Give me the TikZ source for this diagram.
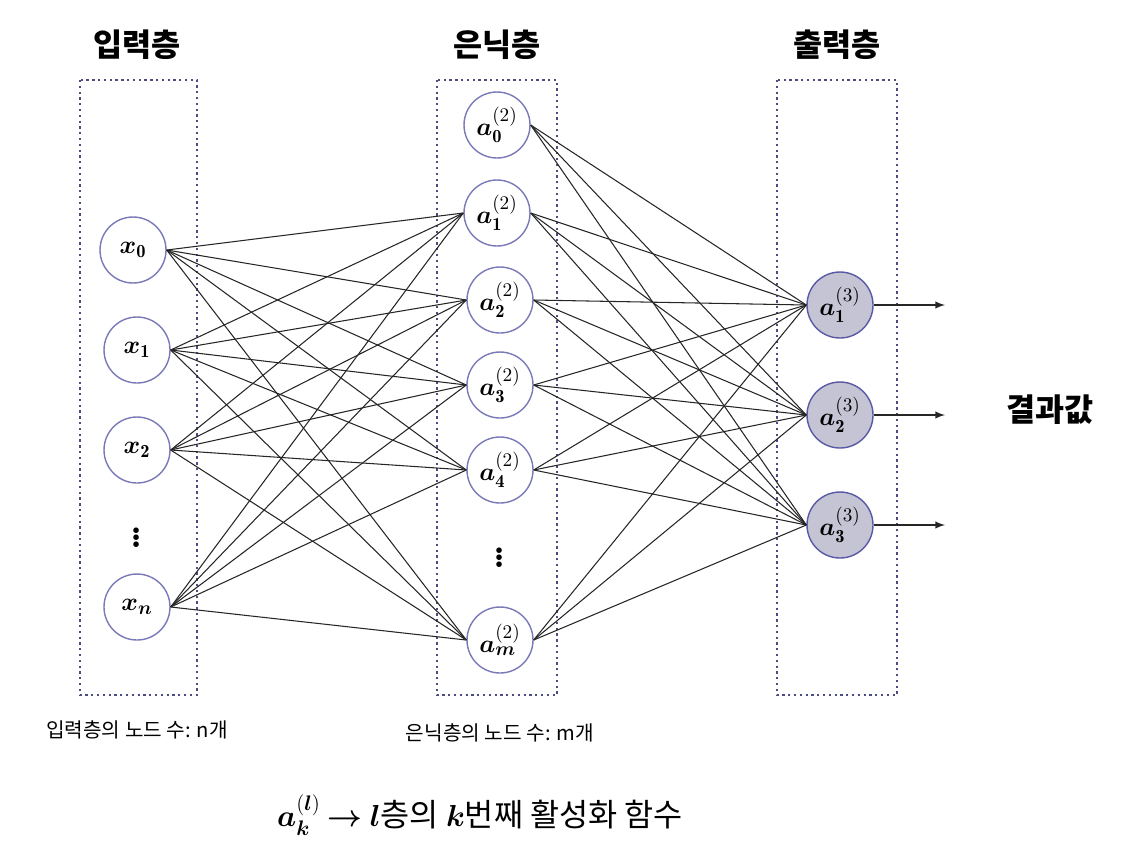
\documentclass[tikz,border=0pt]{standalone}
\usepackage{amsmath,bm}
\usepackage{fontspec}
\newfontfamily\kr{Noto Sans CJK KR}
\begin{document}
\begin{tikzpicture}[x=0.02cm,y=-0.02cm,
  neuron/.style={circle,draw=blue!30!gray!80,thick,fill=white,minimum size=1.32cm,inner sep=0pt,font=\fontsize{15}{17}\selectfont},
  outn/.style={neuron,fill=blue!15!gray!40,draw=blue!30!gray},
  layerbox/.style={draw=blue!30!black!70,dotted,line width=1.3pt},
  edge/.style={draw=black!85,line width=0.6pt},
  title/.style={font=\kr\bfseries\fontsize{18}{20}\selectfont},
  note/.style={font=\kr\fontsize{11.5}{13}\selectfont},
  vdots/.style={font=\bfseries\fontsize{22}{22}\selectfont}]
\useasboundingbox (0,0) rectangle (1128,863);
\draw[layerbox] (80,80) rectangle (197,695);
\draw[layerbox] (437,80) rectangle (557,695);
\draw[layerbox] (777,80) rectangle (897,695);
\node[title] (t1) at (137,45) {입력층};
\node[title] (t2) at (497,45) {은닉층};
\node[title] (t3) at (837,45) {출력층};
\node[neuron] (x0) at (133,250) {$\bm{x}_{\mathbf 0}$};
\node[neuron] (x1) at (137,350) {$\bm{x}_{\mathbf 1}$};
\node[neuron] (x2) at (137,450) {$\bm{x}_{\mathbf 2}$};
\node[vdots] (d1) at (137,532) {$\vdots$};
\node[neuron] (xn) at (137,607) {$\bm{x}_{\bm n}$};
\node[neuron] (a0) at (497,125) {$\bm{a}_{\mathbf 0}^{(2)}$};
\node[neuron] (a1) at (497,213) {$\bm{a}_{\mathbf 1}^{(2)}$};
\node[neuron] (a2) at (500,300) {$\bm{a}_{\mathbf 2}^{(2)}$};
\node[neuron] (a3) at (500,385) {$\bm{a}_{\mathbf 3}^{(2)}$};
\node[neuron] (a4) at (500,470) {$\bm{a}_{\mathbf 4}^{(2)}$};
\node[vdots] (d2) at (500,552) {$\vdots$};
\node[neuron] (am) at (500,640) {$\bm{a}_{\bm m}^{(2)}$};
\node[outn] (o1) at (840,305) {$\bm{a}_{\mathbf 1}^{(3)}$};
\node[outn] (o2) at (840,415) {$\bm{a}_{\mathbf 2}^{(3)}$};
\node[outn] (o3) at (840,525) {$\bm{a}_{\mathbf 3}^{(3)}$};
\coordinate (e1) at (945,305);
\coordinate (e2) at (945,415);
\coordinate (e3) at (945,525);
\foreach \i in {x0,x1,x2,xn}
  \foreach \h in {a1,a2,a3,a4,am}
    \draw[edge] (\i.east) -- (\h.west);
\foreach \h in {a0,a1,a2,a3,a4,am}
  \foreach \o in {o1,o2,o3}
    \draw[edge] (\h.east) -- (\o.west);
\foreach \o/\e in {o1/e1,o2/e2,o3/e3}
  \draw[edge,-latex,line width=0.9pt] (\o.east) -- (\e);
\node[title] (res) at (1050,410) {결과값};
\node[note] (n1) at (137,730) {입력층의 노드 수: n개};
\node[note] (n2) at (500,733) {은닉층의 노드 수: m개};
\node[font=\kr\fontsize{18}{20}\selectfont] (leg) at (480,815) {$\bm{a}_{\bm k}^{(\bm l)}$ $\bm\rightarrow$ $\bm l$층의 $\bm k$번째 활성화 함수};
\end{tikzpicture}
\end{document}
